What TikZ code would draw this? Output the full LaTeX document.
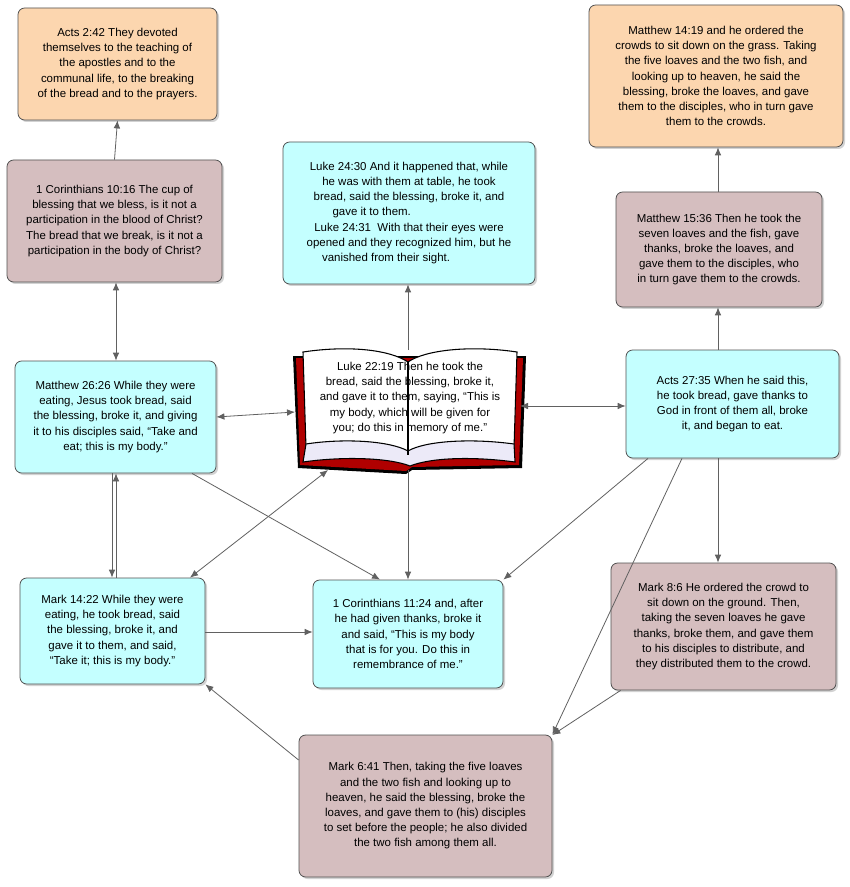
\documentclass[tikz,border=0pt]{standalone}
\usepackage{fontspec}
\setmainfont{Liberation Sans}
\usetikzlibrary{arrows.meta,calc,shadows}
\definecolor{orng}{HTML}{FCD6AF}
\definecolor{mauv}{HTML}{D5BEBF}
\definecolor{cyn}{HTML}{C4FFFF}
\definecolor{brd}{HTML}{505050}
\definecolor{bookred}{HTML}{B00000}
\definecolor{lav}{HTML}{ECEAF8}
\tikzset{
  bx/.style={draw=brd,line width=0.6pt,rounded corners=5pt,align=center,inner sep=2pt,
    font=\fontsize{8.6}{11.4}\selectfont,drop shadow={shadow xshift=1.5pt,shadow yshift=-1.5pt,fill=black!35}},
  ob/.style={bx,fill=orng},
  mb/.style={bx,fill=mauv},
  cb/.style={bx,fill=cyn},
  con/.style={draw=brd!90,line width=0.6pt,-{Latex[length=6pt,width=5pt]}},
  con2/.style={draw=brd!90,line width=0.6pt,{Latex[length=6pt,width=5pt]}-{Latex[length=6pt,width=5pt]}}
}
\newcommand{\bxx}[7]{\node[#6,minimum width={(#4-#2)*0.75pt},minimum height={(#5-#3)*0.75pt}] (#1) at ({(#2+#4)/2},{(#3+#5)/2}) {#7};}
\begin{document}
\begin{tikzpicture}[x=0.75pt,y=-0.75pt]
\useasboundingbox[fill=white] (0,0) rectangle (849,887);
\bxx{A}{18}{8}{217}{120}{ob}{Acts 2:42 They devoted\\themselves to the teaching of\\the apostles and to the\\communal life, to the breaking\\of the bread and to the prayers.}
\bxx{B}{7}{160}{222}{282}{mb}{1 Corinthians 10:16 The cup of\\blessing that we bless, is it not a\\participation in the blood of Christ?\\The bread that we break, is it not a\\participation in the body of Christ?}
\bxx{C}{283}{142}{535}{284}{cb}{Luke 24:30 And it happened that, while\\he was with them at table, he took\\bread, said the blessing, broke it, and\\gave it to them.\hspace*{6.5em}\mbox{}\\Luke 24:31\ \ With that their eyes were\\opened and they recognized him, but he\\vanished from their sight.\hspace*{4em}\mbox{}}
\bxx{D}{589}{5}{843}{147}{ob}{Matthew 14:19 and he ordered the\\crowds to sit down on the grass. Taking\\the five loaves and the two fish, and\\looking up to heaven, he said the\\blessing, broke the loaves, and gave\\them to the disciples, who in turn gave\\them to the crowds.}
\bxx{E}{616}{192}{822}{307}{mb}{Matthew 15:36 Then he took the\\seven loaves and the fish, gave\\thanks, broke the loaves, and\\gave them to the disciples, who\\in turn gave them to the crowds.}
\bxx{F}{15}{361}{216}{473}{cb}{Matthew 26:26 While they were\\eating, Jesus took bread, said\\the blessing, broke it, and giving\\it to his disciples said, ``Take and\\eat; this is my body.''}
\bxx{H}{626}{350}{839}{458}{cb}{Acts 27:35 When he said this,\\he took bread, gave thanks to\\God in front of them all, broke\\it, and began to eat.}
\bxx{I}{20}{578}{205}{684}{cb}{Mark 14:22 While they were\\eating, he took bread, said\\the blessing, broke it, and\\gave it to them, and said,\\``Take it; this is my body.''}
\bxx{J}{313}{580}{503}{688}{cb}{1 Corinthians 11:24 and, after\\he had given thanks, broke it\\and said, ``This is my body\\that is for you. Do this in\\remembrance of me.''}
\bxx{K}{611}{563}{836}{690}{mb}{Mark 8:6 He ordered the crowd to\\sit down on the ground. Then,\\taking the seven loaves he gave\\thanks, broke them, and gave them\\to his disciples to distribute, and\\they distributed them to the crowd.}
\bxx{L}{299}{735}{552}{877}{mb}{Mark 6:41 Then, taking the five loaves\\and the two fish and looking up to\\heaven, he said the blessing, broke the\\loaves, and gave them to (his) disciples\\to set before the people; he also divided\\the two fish among them all.}
% book
\fill[black] (293,356) -- (526,356) -- (522,468) -- (412,470) -- (406,474) -- (298,468) -- cycle;
\fill[bookred] (296,358) -- (523,358) -- (519,465) -- (412,467) -- (406,471) -- (300,465) -- cycle;
\filldraw[fill=white,draw=black,line width=0.8pt] (303,352) .. controls (350,345) and (390,350) .. (408,362) .. controls (425,350) and (470,345) .. (517,352) -- (514,448) .. controls (470,442) and (425,445) .. (408,455) .. controls (390,445) and (345,442) .. (306,448) -- cycle;
\filldraw[fill=lav,draw=black,line width=0.8pt] (306,444) .. controls (345,438) and (390,441) .. (408,451) .. controls (425,441) and (470,438) .. (514,444) -- (515,462) .. controls (470,456) and (430,458) .. (410,466) .. controls (390,458) and (345,456) .. (303,462) -- cycle;
\draw[black,line width=0.8pt] (408,362) -- (408,455);
\node[font=\fontsize{8.6}{11.4}\selectfont,align=center] (G) at (410,398) {Luke 22:19 Then he took the\\bread, said the blessing, broke it,\\and gave it to them, saying, ``This is\\my body, which will be given for\\you; do this in memory of me.''};
\coordinate (Gt) at (408,350);
\coordinate (Gb) at (408,470);
\coordinate (Gl) at (295,412);
\coordinate (Gr) at (520,406);
\coordinate (Gbl) at (328,470);
% connectors
\draw[con] (B.north) -- (A.south);
\draw[con2] (B.south -| 116,0) -- (F.north -| 116,0);
\draw[con] (Gt) -- (C.south -| Gt);
\draw[con2] (F.east) -- (Gl);
\draw[con2] (Gr) -- (H.west |- Gr);
\draw[con] (H.north -| 718,0) -- (E.south -| 718,0);
\draw[con] (E.north -| 718,0) -- (D.south -| 718,0);
\draw[con] (F.south -| 112,0) -- (I.north -| 112,0);
\draw[con] (I.north -| 116,0) -- (F.south -| 116,0);
\draw[con] (F.south -| 192,0) -- (J.north -| 380,0);
\draw[con2] (I.north -| 190,0) -- (Gbl);
\draw[con] (I.east |- 0,632) -- (J.west |- 0,632);
\draw[con] (Gb) -- (J.north -| Gb);
\draw[con] (H.south -| 648,0) -- (J.north east);
\draw[con] (H.south -| 682,0) -- (L.north east);
\draw[con] (H.south -| 718,0) -- (K.north -| 718,0);
\draw[con] (K.south west) ++(10,0) -- (L.east |- 0,735);
\draw[con] (L.west |- 0,760) -- (I.south east);
\end{tikzpicture}
\end{document}
